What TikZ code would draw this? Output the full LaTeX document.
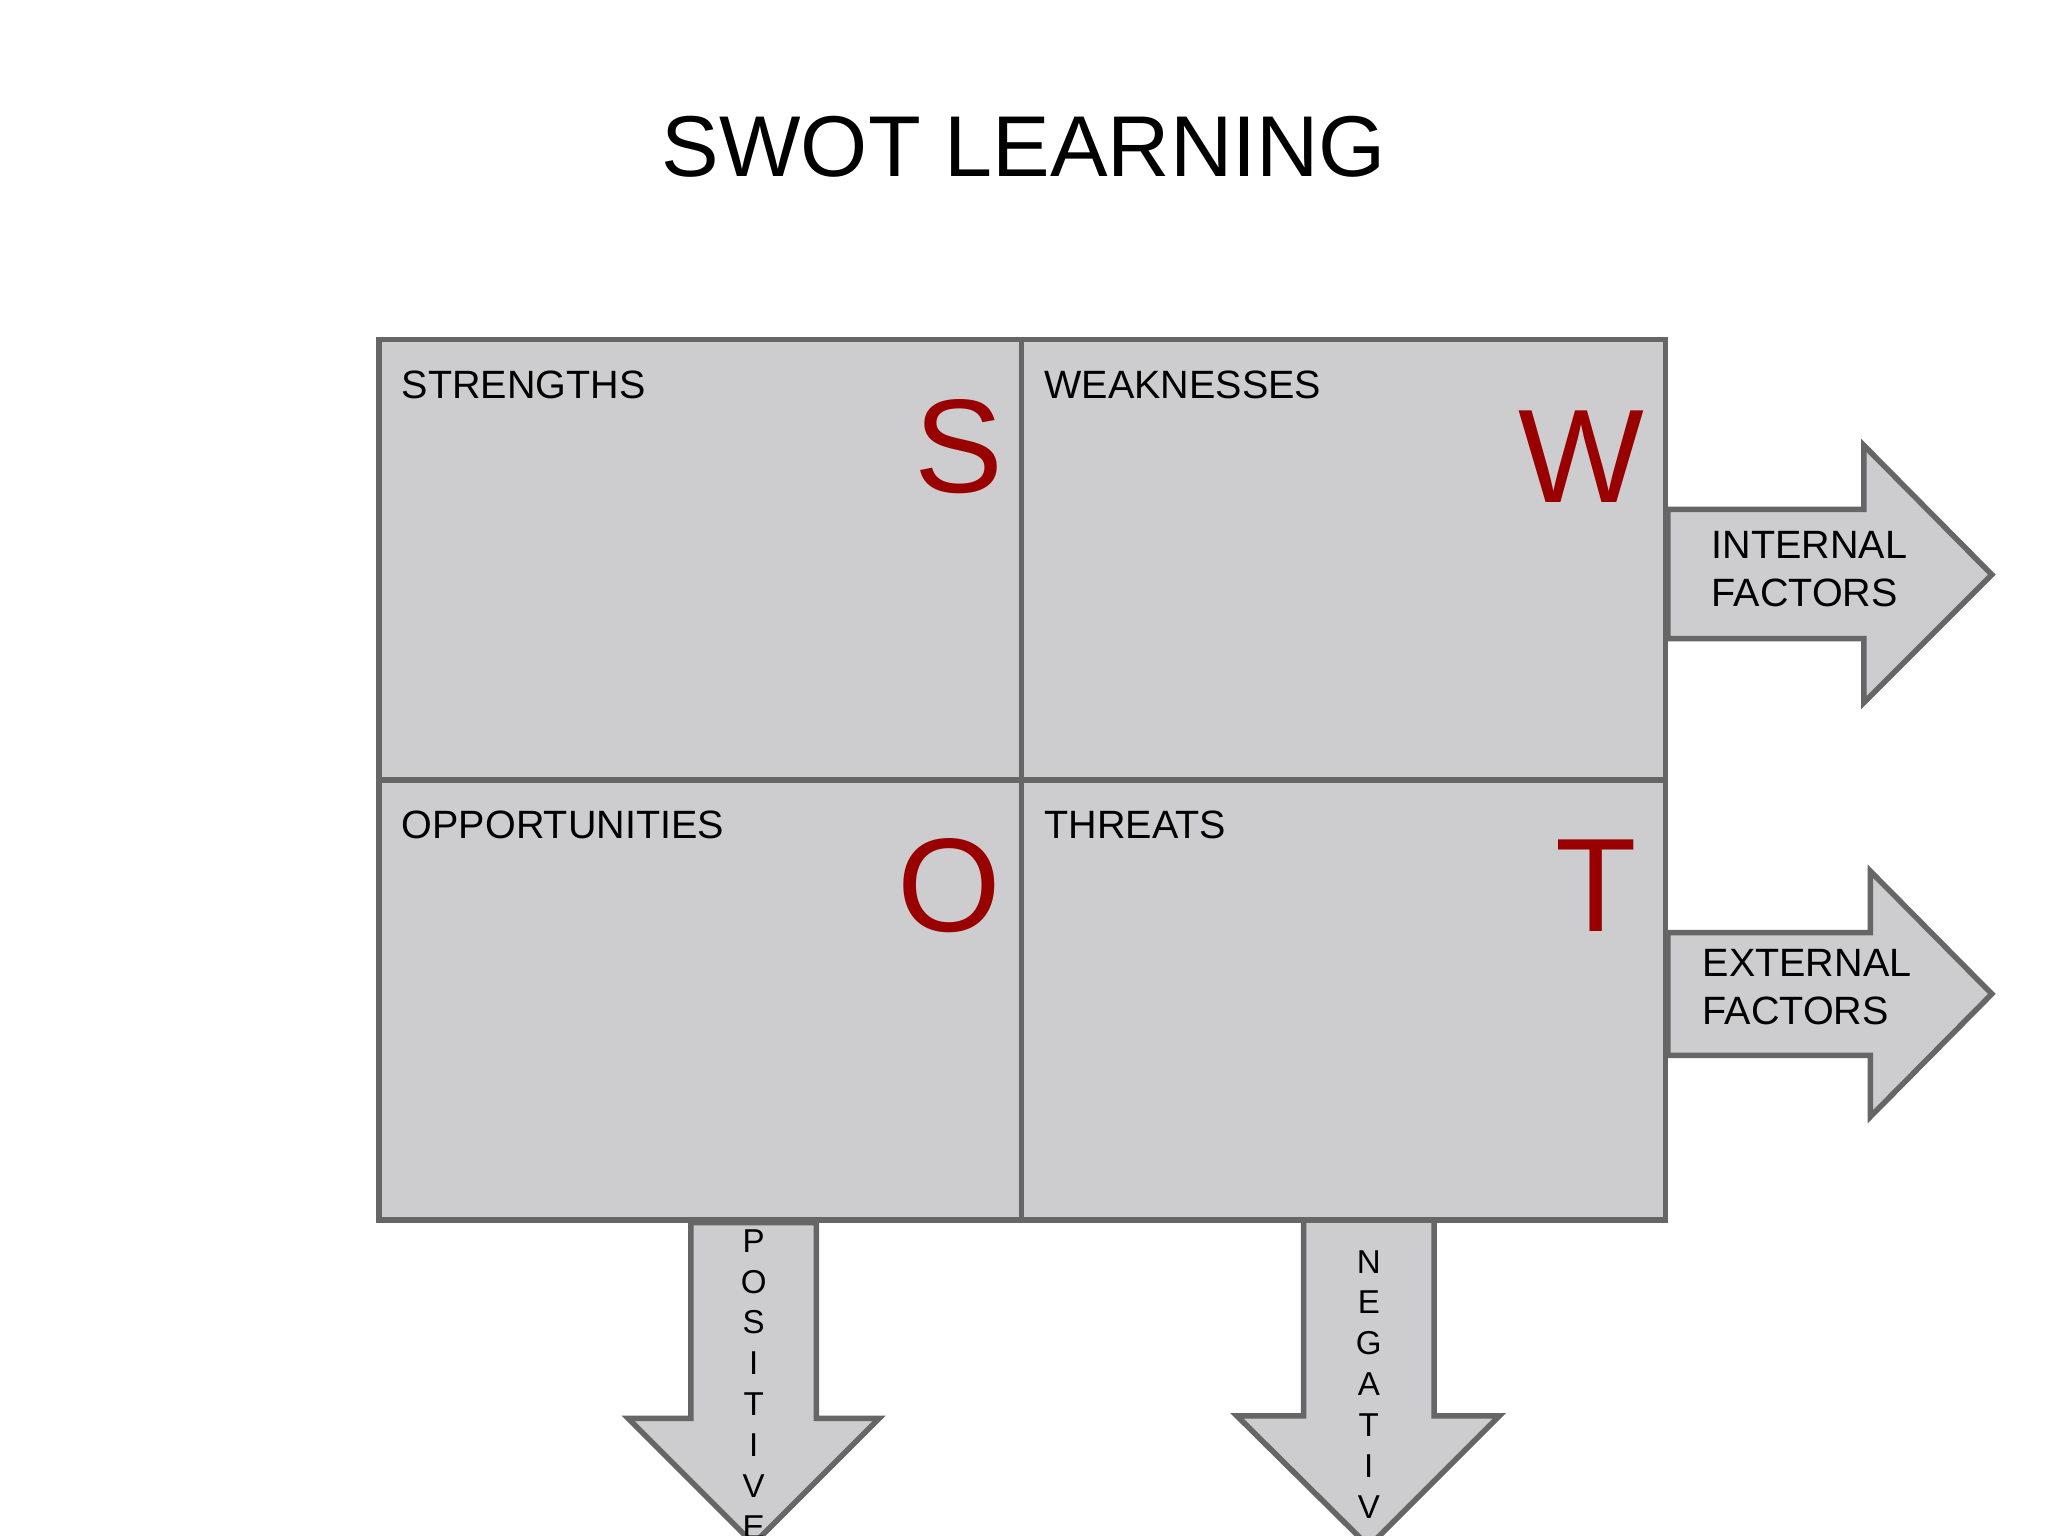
\documentclass[tikz,border=0pt]{standalone}
\usepackage{fontspec}
\setmainfont{Liberation Sans}
\definecolor{boxgray}{HTML}{CDCCCE}
\definecolor{edge}{HTML}{666666}
\definecolor{swred}{HTML}{990000}
\tikzset{cell/.style={draw=edge,line width=1.2pt,fill=boxgray},
 arr/.style={draw=edge,line width=1.2pt,fill=boxgray,line join=miter},
 lab/.style={anchor=north west,font=\fontsize{8.6}{10}\selectfont,inner sep=0},
 big/.style={text=swred,font=\fontsize{29}{31}\selectfont,inner sep=0},
 vert/.style={font=\fontsize{7.2}{9}\selectfont,align=center,inner sep=0}}
\begin{document}
\begin{tikzpicture}[x=0.01cm,y=-0.01cm]
\useasboundingbox (0,0) rectangle (1568,1176);
\clip (0,0) rectangle (1568,1176);
\node[font=\fontsize{18.8}{22}\selectfont] (title) at (784,112) {SWOT LEARNING};
% arrows
\draw[arr] (1277,390) -- (1427,390) -- (1427,341) -- (1525,440) -- (1427,538) -- (1427,489) -- (1277,489) -- cycle;
\draw[arr] (1277,714) -- (1432,714) -- (1432,667) -- (1525,761) -- (1432,855) -- (1432,808) -- (1277,808) -- cycle;
\draw[arr] (529,936) -- (625,936) -- (625,1086) -- (673,1086) -- (577,1182) -- (481,1086) -- (529,1086) -- cycle;
\draw[arr] (998,934) -- (1098,934) -- (1098,1084) -- (1148,1084) -- (1048,1184) -- (947,1084) -- (998,1084) -- cycle;
% grid
\draw[cell] (290,260) rectangle (782,597);
\draw[cell] (782,260) rectangle (1275,597);
\draw[cell] (290,597) rectangle (782,934);
\draw[cell] (782,597) rectangle (1275,934);
\node[lab] (s) at (307,283) {STRENGTHS};
\node[lab] (w) at (799,283) {WEAKNESSES};
\node[lab] (o) at (307,620) {OPPORTUNITIES};
\node[lab] (t) at (799,620) {THREATS};
\node[big] (S) at (734,342) {S};
\node[big] (W) at (1211,350) {W};
\node[big] (O) at (727,678) {O};
\node[big] (T) at (1222,678) {T};
\node[lab,font=\fontsize{8.6}{10.4}\selectfont,align=left] (int) at (1310,406) {INTERNAL\\FACTORS};
\node[lab,font=\fontsize{8.6}{10.4}\selectfont,align=left] (ext) at (1303,726) {EXTERNAL\\FACTORS};
\foreach \c [count=\i] in {P,O,S,I,T,I,V,E}
  \node[vert] at (577,950+31.3*\i-31.3) {\c};
\foreach \c [count=\i] in {N,E,G,A,T,I,V}
  \node[vert] at (1048,966+31.3*\i-31.3) {\c};
\end{tikzpicture}
\end{document}
